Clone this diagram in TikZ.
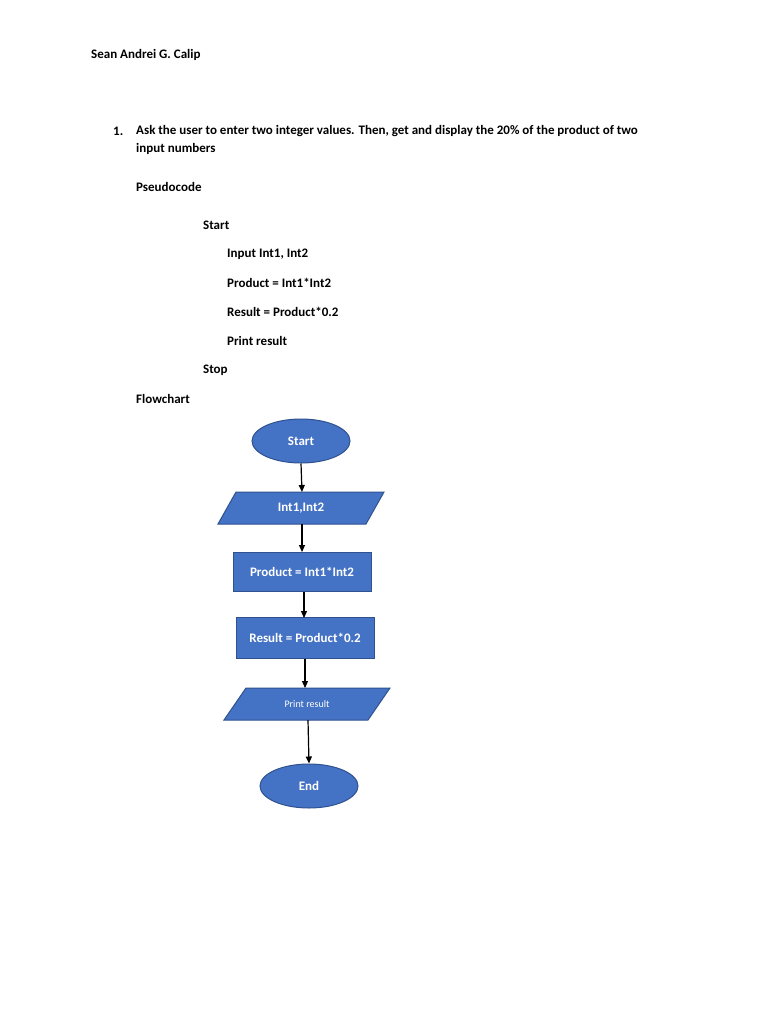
\documentclass[tikz,border=0pt]{standalone}
\usepackage{fontspec}
\setmainfont{Carlito}
\usetikzlibrary{shapes.geometric,arrows.meta}
\definecolor{boxfill}{HTML}{4472C4}
\definecolor{boxline}{HTML}{2F528F}
\begin{document}
\begin{tikzpicture}[x=1pt,y=-1pt,
  txt/.style={anchor=west,inner sep=0pt,font=\fontsize{13}{15}\selectfont\bfseries},
  term/.style={ellipse,draw=boxline,fill=boxfill,line width=1pt,minimum width=98pt,minimum height=44pt,text=white,font=\fontsize{13}{15}\selectfont\bfseries},
  proc/.style={rectangle,draw=boxline,fill=boxfill,line width=1pt,minimum width=138pt,minimum height=39pt,text=white,font=\fontsize{13}{15}\selectfont\bfseries},
  io/.style={draw=boxline,fill=boxfill,line width=1pt},
  lbl/.style={text=white,inner sep=0pt},
  arr/.style={-{Triangle[length=7pt,width=6pt]},line width=1.2pt}]
\useasboundingbox (0,0) rectangle (768,1024);
\fill[white] (0,0) rectangle (768,1024);
\node[txt] (name) at (91,55) {Sean Andrei G. Calip};
\node[txt] (num) at (113,131) {1.};
\node[txt] (q1) at (136,131) {Ask the user to enter two integer values. Then, get and display the 20\% of the product of two};
\node[txt] (q2) at (136,149) {input numbers};
\node[txt] (ps) at (136,187) {Pseudocode};
\node[txt] (p1) at (203,225) {Start};
\node[txt] (p2) at (227,254) {Input Int1, Int2};
\node[txt] (p3) at (227,283) {Product = Int1*Int2};
\node[txt] (p4) at (227,312) {Result = Product*0.2};
\node[txt] (p5) at (227,341) {Print result};
\node[txt] (p6) at (203,370) {Stop};
\node[txt] (fc) at (136,399) {Flowchart};

\node[term] (start) at (301,441) {Start};
\draw[io] (236,492) -- (384,492) -- (366,524) -- (218,524) -- cycle;
\node[lbl,font=\fontsize{13}{15}\selectfont\bfseries] (in) at (301,508) {Int1,Int2};
\coordinate (inT) at (302,492); \coordinate (inB) at (302,524);
\node[proc] (prod) at (302,572) {Product = Int1*Int2};
\node[proc,minimum height=41pt] (res) at (305,638) {Result = Product*0.2};
\draw[io] (246,688) -- (390,688) -- (368,720) -- (224,720) -- cycle;
\node[lbl,font=\fontsize{10}{12}\selectfont] (pr) at (307,704) {Print result};
\coordinate (prT) at (305,688); \coordinate (prB) at (308,720);
\node[term] (end) at (309,786) {End};

\draw[arr] (start.south) -- (inT);
\draw[arr] (inB) -- (prod.north);
\draw[arr] (prod.south -| 304,0) -- (304,618);
\draw[arr] (res.south) -- (prT);
\draw[arr] (prB) -- (end.north);
\end{tikzpicture}
\end{document}
